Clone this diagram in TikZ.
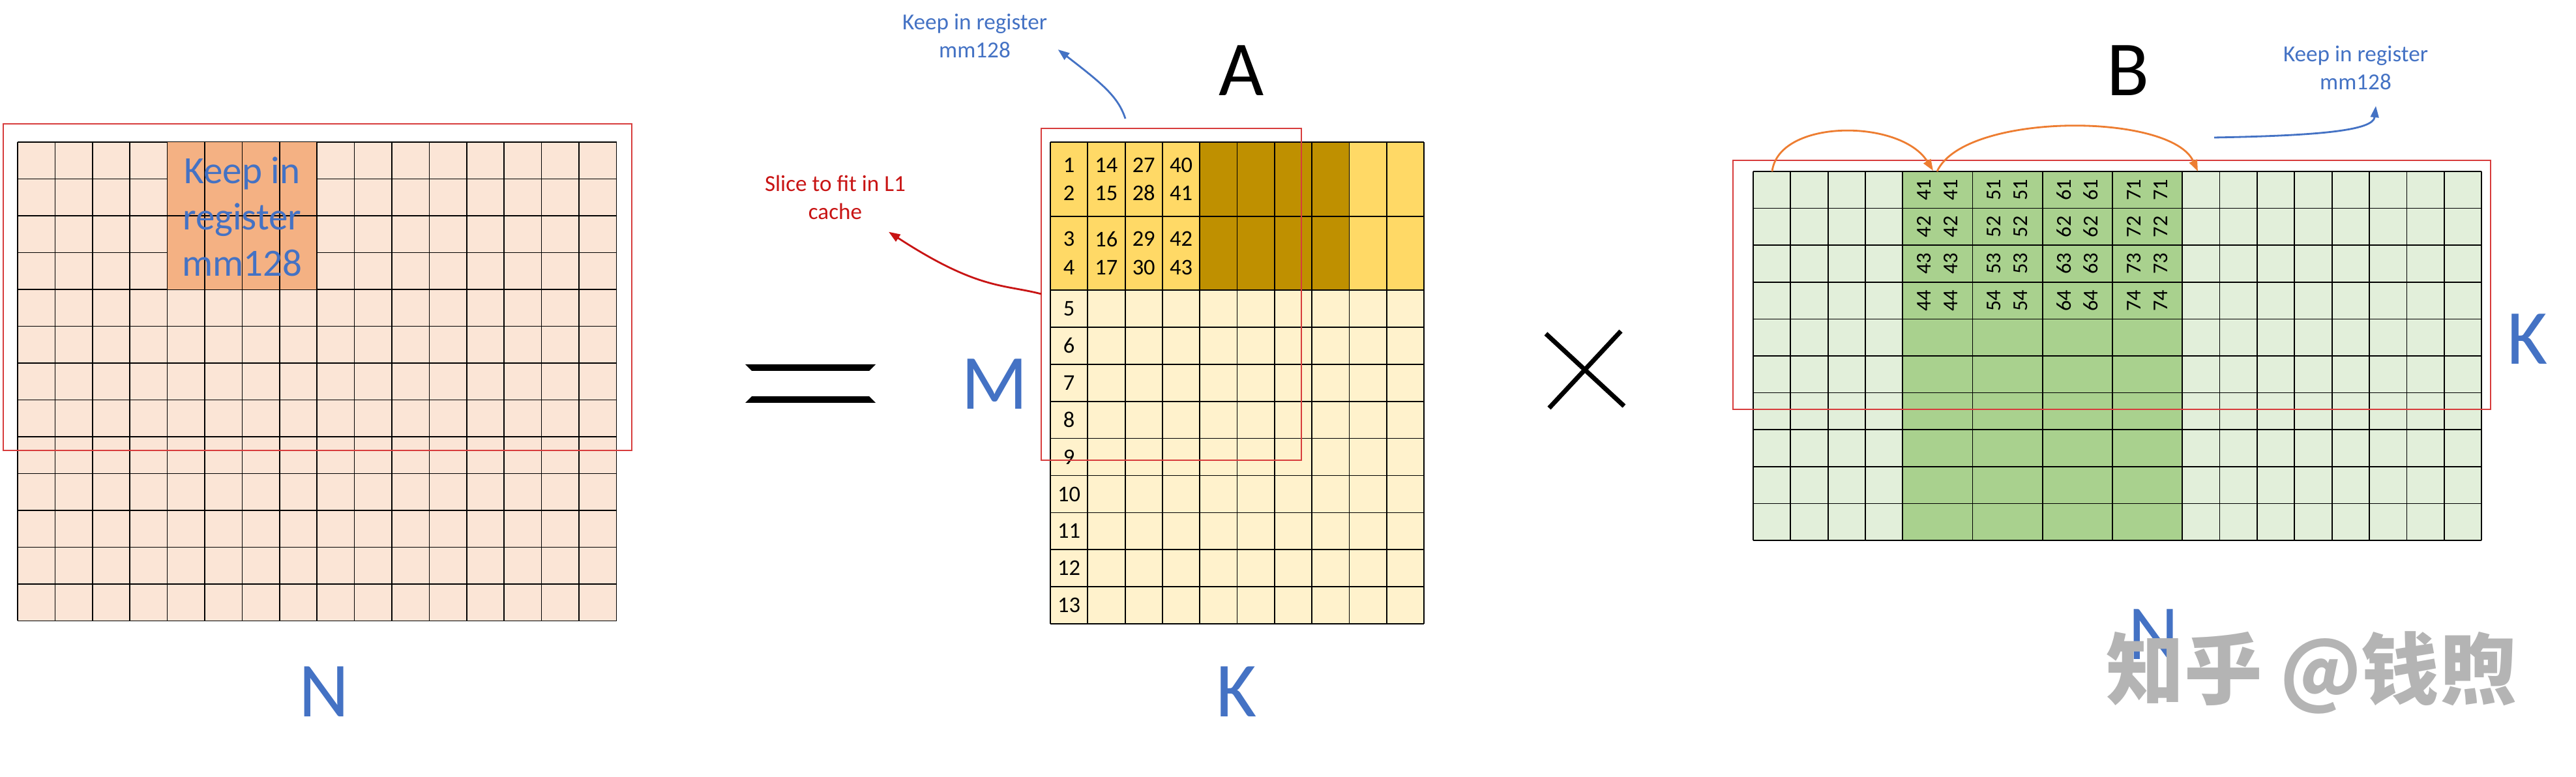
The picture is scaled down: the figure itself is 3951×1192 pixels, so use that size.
\documentclass[tikz,border=0pt]{standalone}
\usepackage{fontspec}
\setmainfont{Carlito}
\newfontfamily\cjkfont{Noto Sans CJK SC}
\usetikzlibrary{arrows.meta}
\definecolor{regblue}{RGB}{68,114,196}
\definecolor{cachered}{RGB}{200,20,20}
\definecolor{boxred}{RGB}{215,60,60}
\definecolor{clight}{RGB}{251,229,214}
\definecolor{cdark}{RGB}{244,177,131}
\definecolor{alight}{RGB}{255,242,204}
\definecolor{amid}{RGB}{255,217,102}
\definecolor{adark}{RGB}{191,144,0}
\definecolor{blight}{RGB}{226,239,218}
\definecolor{bdark}{RGB}{169,209,142}
\definecolor{jumporange}{RGB}{237,125,49}
\definecolor{markgray}{RGB}{180,180,180}

\begin{document}
\begin{tikzpicture}[x=0.01cm, y=-0.01cm,
  gridline/.style={line width=0.5pt, black},
  slicebox/.style={draw=boxred, line width=0.6pt},
  dimlbl/.style={inner sep=0pt, text=regblue, font=\fontsize{34}{36}\selectfont},
  namelbl/.style={inner sep=0pt, font=\fontsize{34}{36}\selectfont},
  cellnum/.style={inner sep=0pt, align=center, font=\fontsize{9.8}{12.4}\selectfont},
  rotnum/.style={inner sep=0pt, align=center, rotate=90, font=\fontsize{9.2}{11.7}\selectfont},
  notelbl/.style={inner sep=0pt, align=center, font=\fontsize{10}{12.3}\selectfont},
  regarrow/.style={regblue, line width=0.8pt, -{Triangle[length=5pt,width=3.6pt]}},
  jump/.style={jumporange, line width=0.8pt, -{Triangle[length=5pt,width=3.6pt]}}]
\useasboundingbox (0,0) rectangle (3951,1192);

% result matrix
\fill[clight] (27,218) rectangle (946,952);
\foreach \j in {0,...,13}
  \draw[gridline] (27,218+\j*56.5) -- (946,218+\j*56.5);
\fill[cdark] (256.6,218) rectangle (486.2,444);
\draw[gridline] (256.6,331) -- (486.2,331);
\foreach \i in {0,...,16}
  \draw[gridline] (27+\i*57.4,218) -- (27+\i*57.4,952);
\node[inner sep=0pt, align=center, text=regblue, font=\fontsize{16.8}{20.2}\selectfont] (cReg) at (371.4,332) {Keep in\\register\\mm128};
\draw[slicebox] (5,190) rectangle (969,691);
\node[dimlbl] (cN) at (497,1061) {N};

% equals
\fill (1143,559) -- (1343,559) -- (1333,569) -- (1153,569) -- cycle;
\fill (1153,608) -- (1333,608) -- (1343,618) -- (1143,618) -- cycle;

% matrix A
\fill[alight] (1611,218) rectangle (2184,957);
\fill[amid] (1611,218) rectangle (2184,445);
\fill[adark] (1840.2,218) rectangle (2069.4,445);
\foreach \y in {218,332,445}
  \draw[gridline] (1611,\y) -- (2184,\y);
\foreach \k in {1,...,9}
  \draw[gridline] (1611,445+\k*56.9) -- (2184,445+\k*56.9);
\foreach \i in {0,...,10}
  \draw[gridline] (1611+\i*57.3,218) -- (1611+\i*57.3,957);
\foreach \a/\b/\i in {1/2/0,14/15/1,27/28/2,40/41/3}
  \node[cellnum] (aTop\i) at (1639.6+\i*57.3,275) {\a\\\b};
\foreach \a/\b/\i in {3/4/0,16/17/1,29/30/2,42/43/3}
  \node[cellnum] (aBot\i) at (1639.6+\i*57.3,388.5) {\a\\\b};
\foreach \r in {5,...,13}
  \node[cellnum] (aRow\r) at (1639.6,473.5+\r*56.9-5*56.9) {\r};
\draw[slicebox] (1597,197) rectangle (1996,706);
\coordinate (aSliceTail) at (1597,451);
\coordinate (aRegTail) at (1726,182);
\node[namelbl] (aName) at (1904,108) {A};
\node[dimlbl] (aM) at (1526,589) {M};
\node[dimlbl] (aK) at (1897,1061) {K};
\node[notelbl, text=cachered] (sliceLbl) at (1281,303) {Slice to fit in L1\\cache};
\node[notelbl, text=regblue] (aReg) at (1495,55) {Keep in register\\mm128};
\draw[cachered, line width=0.8pt, -{Triangle[length=5pt,width=3.6pt]}] (aSliceTail) .. controls (1540,436) and (1500,445) .. ([shift={(82,18)}]sliceLbl.south);
\draw[regarrow] (aRegTail) .. controls (1715,148) and (1690,128) .. ([shift={(16,21)}]aReg.east);

% times
\draw[line width=2pt] (2371,512) -- (2491,623);
\draw[line width=2pt] (2486,508) -- (2376,626);

% matrix B
\fill[blight] (2689,263) rectangle (3806,829);
\fill[bdark] (2918.2,263) rectangle (3347,829);
\foreach \r in {0,...,10}
  \draw[gridline] (2689,263+\r*56.6) -- (3806,263+\r*56.6);
\foreach \i in {0,...,4}
  \draw[gridline] (2689+\i*57.3,263) -- (2689+\i*57.3,829);
\foreach \i in {1,...,3}
  \draw[gridline] (2918.2+\i*107.2,263) -- (2918.2+\i*107.2,829);
\foreach \i in {0,...,8}
  \draw[gridline] (3347+\i*57.4,263) -- (3347+\i*57.4,829);
\foreach \c in {0,...,3}
  \foreach \r in {0,...,3}{
    \pgfmathtruncatemacro\v{41+10*\c+\r}
    \node[rotnum] (bNum\c\r) at (2971.8+\c*107.2,291.3+\r*56.6) {\v\\\v};
  }
\draw[slicebox] (2658,246) rectangle (3820,628);
\coordinate (bJump0) at (2718,263);
\coordinate (bJump1) at (2965,262);
\coordinate (bJump2) at (2971,263);
\coordinate (bJump3) at (3371,263);
\draw[jump] (bJump0) .. controls (2728,182) and (2915,182) .. (bJump1);
\draw[jump] (bJump2) .. controls (3012,172) and (3330,172) .. (bJump3);
\node[namelbl] (bName) at (3264,108) {B};
\node[dimlbl] (bK) at (3877,520) {K};
\node[dimlbl] (bN) at (3303,973) {N};
\node[notelbl, text=regblue] (bReg) at (3613,104) {Keep in register\\mm128};
\coordinate (bRegTail) at (3396,211);
\draw[regarrow] (bRegTail) .. controls (3560,208) and (3640,200) .. ([shift={(31,24)}]bReg.south);

% watermark
\node[inner sep=0pt, text=markgray, font=\cjkfont\bfseries\fontsize{34}{34}\selectfont] (mark) at (3546,1032) {知乎 @钱煦};
\end{tikzpicture}
\end{document}
